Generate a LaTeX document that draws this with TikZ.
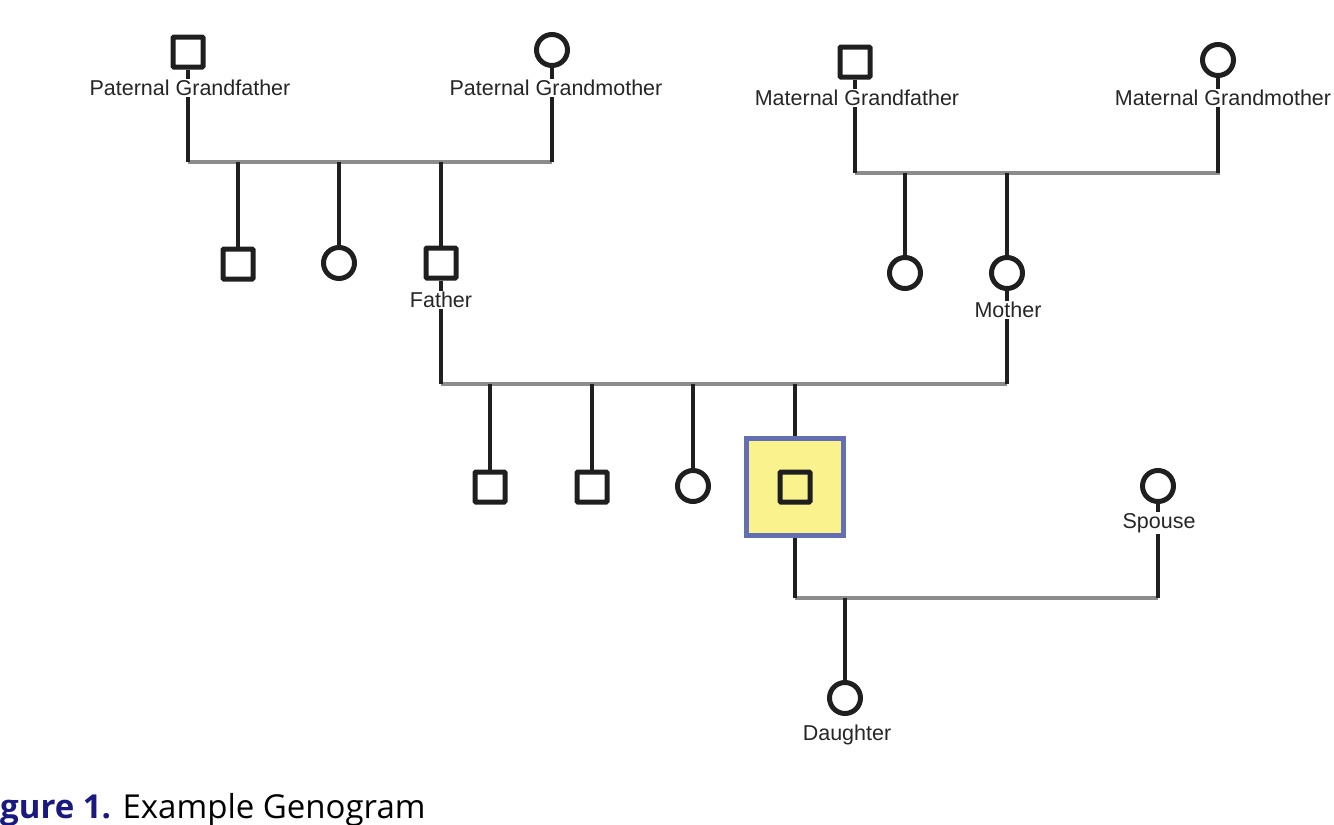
\documentclass[tikz,border=0pt]{standalone}
\usepackage{fontspec}
\setmainfont{Liberation Sans}
\newfontfamily\capfont{Open Sans}
\begin{document}
\begin{tikzpicture}[x=1pt,y=-1pt,
  m/.style={draw=black!88,line width=5pt,minimum size=30pt,inner sep=0pt,rounded corners=1pt},
  f/.style={circle,draw=black!88,line width=5pt,minimum size=31pt,inner sep=0pt},
  lab/.style={fill=white,inner sep=1.5pt,font=\fontsize{21.5}{22}\selectfont,text=black!85},
  ln/.style={draw=black!88,line width=4.5pt},
  bar/.style={draw=black!45,line width=4.5pt}]
\useasboundingbox (0,0) rectangle (1334,825);
\clip (0,0) rectangle (1334,825);
\coordinate (b1l) at (188,162); \coordinate (b1r) at (552,162);
\coordinate (b2l) at (855,173); \coordinate (b2r) at (1220,173);
\coordinate (b3l) at (441,384); \coordinate (b3r) at (1007,384);
\coordinate (b4l) at (795,598); \coordinate (b4r) at (1158,598);
\draw[bar] (b1l) -- (b1r); \draw[bar] (b2l) -- (b2r);
\draw[bar] (b3l) -- (b3r); \draw[bar] (b4l) -- (b4r);
\node[m] (pgf) at (188,52) {}; \node[f] (pgm) at (552,50) {};
\node[m] (mgf) at (855,62) {}; \node[f] (mgm) at (1218,60) {};
\draw[ln] (pgf) -- (b1l); \draw[ln] (pgm) -- (b1r);
\draw[ln] (mgf) -- (b2l); \draw[ln] (mgm) -- (1218,173);
\node[lab] (lpgf) at (190,88) {Paternal Grandfather};
\node[lab] (lpgm) at (556,88) {Paternal Grandmother};
\node[lab] (lmgf) at (857,98) {Maternal Grandfather};
\node[lab] (lmgm) at (1223,98) {Maternal Grandmother};
\node[m] (u1) at (238,264) {}; \node[f] (a1) at (339,263) {};
\node[m] (fa) at (441,263) {};
\node[f] (a2) at (905,273) {}; \node[f] (mo) at (1007,273) {};
\draw[ln] (u1) -- (238,162); \draw[ln] (a1) -- (339,162); \draw[ln] (fa) -- (441,162);
\draw[ln] (a2) -- (905,173); \draw[ln] (mo) -- (1007,173);
\draw[ln] (fa) -- (b3l); \draw[ln] (mo) -- (b3r);
\node[lab] (lfa) at (441,300) {Father};
\node[lab] (lmo) at (1008,310) {Mother};
\node[draw={rgb,255:red,100;green,110;blue,180},line width=4.5pt,fill={rgb,255:red,250;green,242;blue,140},minimum size=97pt,inner sep=0pt] (pbox) at (795,487) {};
\node[m] (s1) at (490,487) {}; \node[m] (s2) at (592,487) {};
\node[f] (d1) at (693,486) {}; \node[m] (pr) at (795,487) {};
\draw[ln] (s1) -- (490,384); \draw[ln] (s2) -- (592,384); \draw[ln] (d1) -- (693,384);
\draw[ln] (pbox) -- (795,384);
\node[f] (sp) at (1158,486) {};
\draw[ln] (pbox) -- (b4l); \draw[ln] (sp) -- (b4r);
\node[lab] (lsp) at (1159,523) {Spouse};
\node[f] (da) at (845,698) {};
\draw[ln] (da) -- (845,598);
\node[lab] (lda) at (847,735) {Daughter};
\node[anchor=base west,inner sep=0pt,font=\capfont\fontsize{33}{33}\selectfont] (cap) at (0,818)
 {\textcolor[rgb]{0.1,0.1,0.5}{\bfseries\llap{Fi}gure 1.} Example Genogram};
\end{tikzpicture}
\end{document}
